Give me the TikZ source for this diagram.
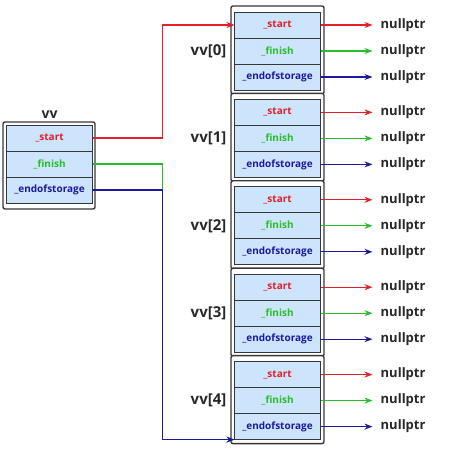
\documentclass[tikz,border=0pt]{standalone}
\usepackage{fontspec}
\setmainfont{Open Sans}
\usetikzlibrary{arrows.meta,positioning}

\definecolor{cellblue}{RGB}{204,228,252}
\definecolor{ptrred}{RGB}{230,30,40}
\definecolor{ptrgreen}{RGB}{40,190,40}
\definecolor{ptrblue}{RGB}{26,26,160}
\definecolor{framegray}{RGB}{55,55,55}
\definecolor{inkgray}{RGB}{40,40,40}

\tikzset{
  cell/.style={draw=framegray, fill=cellblue, line width=0.9pt, outer sep=0pt,
    minimum width=86pt, minimum height=26pt, inner sep=0pt,
    font=\bfseries\fontsize{10}{12}\selectfont},
  frame/.style={draw=framegray, fill=white, line width=1.4pt, rounded corners=2pt},
  nul/.style={inner sep=0pt, text=inkgray, font=\bfseries\fontsize{13}{15}\selectfont},
  lbl/.style={inner sep=0pt, text=inkgray, font=\bfseries\fontsize{15}{17}\selectfont},
  ptr/.style={line width=1.2pt, -{Stealth[length=8pt,width=6pt]}},
}

\begin{document}
\begin{tikzpicture}[x=1pt,y=-1pt]
\useasboundingbox (0,0) rectangle (474,449);
% the vector vv itself
\draw[frame] (3,122) rectangle (95,209);
\node[cell, text=ptrred, anchor=north] (vs) at (49.5,125) {\_start};
\node[cell, text=ptrgreen, below=0pt of vs] (vf) {\_finish};
\node[cell, text=ptrblue, below=0pt of vf] (ve) {\_endofstorage};
\node[lbl, font=\bfseries\fontsize{14}{16}\selectfont, above=6pt of vs] (vvname) {vv};
% the elements vv[0] .. vv[4]
\foreach \i in {0,...,4}{
  \pgfmathsetmacro{\ytop}{12+87.4*\i}
  \draw[frame] (231,\ytop-6) rectangle (324,\ytop+82);
  \node[cell, text=ptrred, anchor=north] (s\i) at (277.5,\ytop) {\_start};
  \node[cell, text=ptrgreen, below=0pt of s\i] (f\i) {\_finish};
  \node[cell, text=ptrblue, below=0pt of f\i] (e\i) {\_endofstorage};
  \node[lbl, left=8pt of f\i] (v\i) {vv[\i]};
  \node[nul, right=60pt of s\i] (ns\i) {nullptr};
  \node[nul, right=60pt of f\i] (nf\i) {nullptr};
  \node[nul, right=60pt of e\i] (ne\i) {nullptr};
  \draw[ptr, ptrred, shorten >=8pt] (s\i) -- (ns\i);
  \draw[ptr, ptrgreen, shorten >=8pt] (f\i) -- (nf\i);
  \draw[ptr, ptrblue, shorten >=8pt] (e\i) -- (ne\i);
}
% pointers of vv
\coordinate (bus) at (162.5,0);
\draw[ptr, ptrred] (vs) -- (vs -| bus) |- (s0);
\draw[ptr, ptrgreen] (vf) -- (vf -| bus) |- (e4.south west);
\draw[ptr, ptrblue] (ve) -- (ve -| bus) |- (e4.south west);
\end{tikzpicture}
\end{document}
